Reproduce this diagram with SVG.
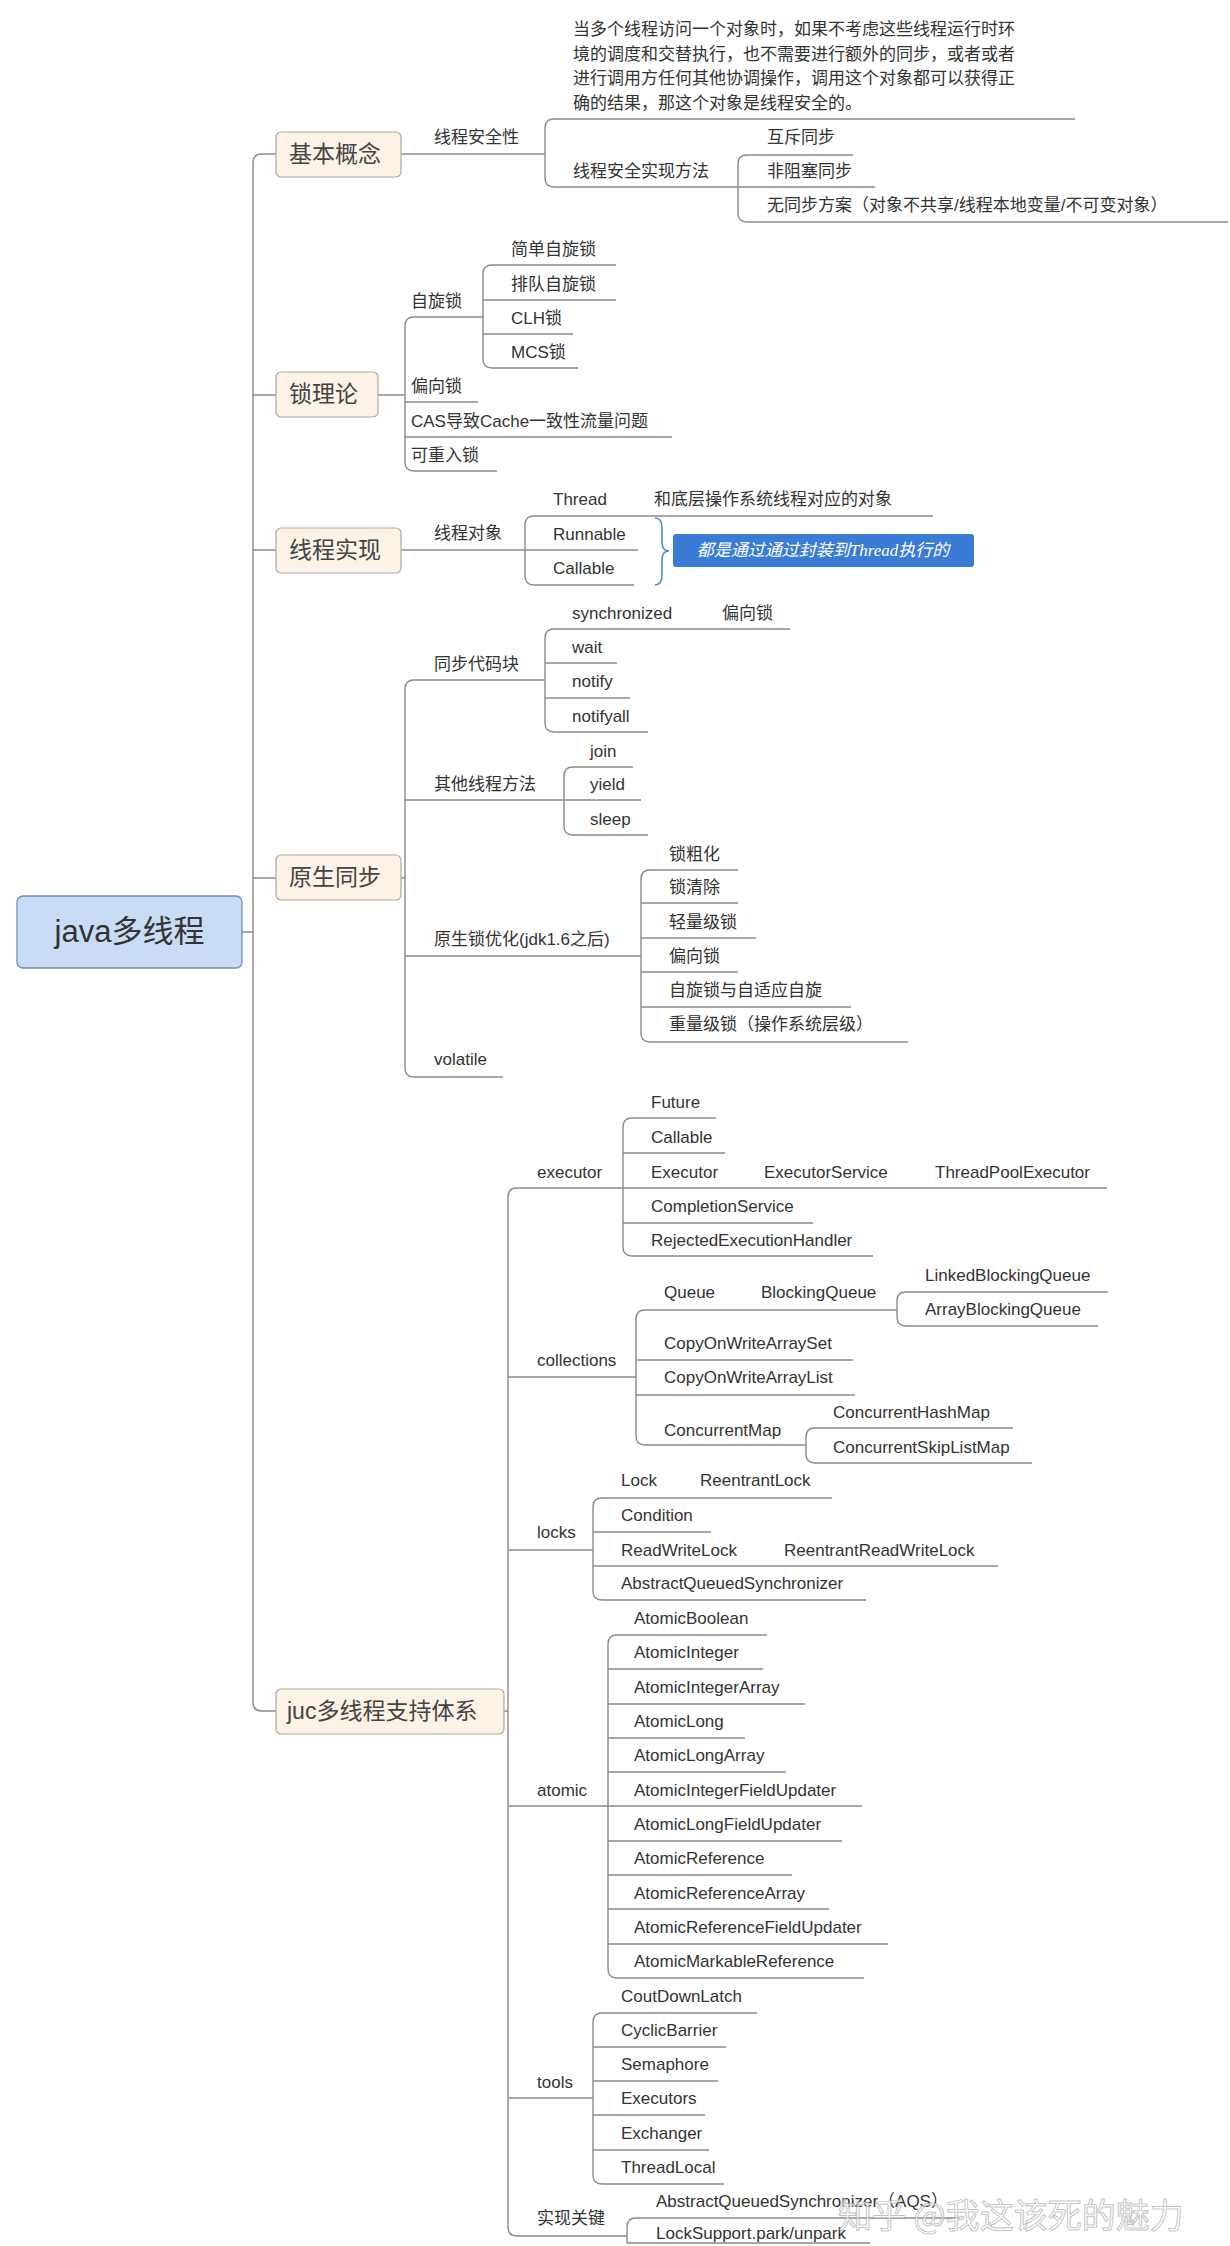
<svg xmlns="http://www.w3.org/2000/svg" width="1230" height="2246" viewBox="0 0 1230 2246">
<style>
.t{font-family:"Liberation Sans","Noto Sans CJK SC",sans-serif;font-size:17px;fill:#333}
.b{font-family:"Liberation Sans","Noto Sans CJK SC",sans-serif;font-size:23px;fill:#444}
.c{fill:none;stroke:#8a8a8a;stroke-width:1.4}
.box{fill:#fcf2e6;stroke:#b3a89a;stroke-width:1.2}
</style>
<rect width="1230" height="2246" fill="#fff"/>
<g id="connectors" class="c">
<!-- main trunk -->
<path d="M242 932 H253 M276 154 H262 Q253 154 253 163 V1702 Q253 1711 262 1711 H276 M253 395 H276 M253 550 H276 M253 878 H276"/>
<!-- 基本概念 -->
<path d="M401 154 H545 M1075 119 H554 Q545 119 545 128 V178 Q545 187 554 187 H738 M853 155 H747 Q738 155 738 164 V213 Q738 222 747 222 H1228 M738 187 H875"/>
<!-- 锁理论 -->
<path d="M378 395 H405 M483 317 H414 Q405 317 405 326 V462 Q405 471 414 471 H497 M405 402 H478 M405 437 H672 M616 265 H492 Q483 265 483 274 V359 Q483 368 492 368 H578 M483 300 H616 M483 334 H573"/>
<!-- 线程实现 -->
<path d="M401 550 H525 M933 516 H534 Q525 516 525 525 V576 Q525 585 534 585 H634 M525 550 H638"/>
<path d="M655 518 Q662 518 662 528 V542 Q662 551 669 551 Q662 551 662 560 V575 Q662 585 655 585" stroke="#4a8fd6" stroke-width="1.6"/>
<!-- 原生同步 -->
<path d="M401 878 H405 M545 680 H414 Q405 680 405 689 V1068 Q405 1077 414 1077 H503 M405 800 H564 M405 956 H641 M790 629 H554 Q545 629 545 638 V723 Q545 732 554 732 H648 M545 663 H617 M545 698 H630 M633 767 H573 Q564 767 564 776 V826 Q564 835 573 835 H648 M564 800 H641 M738 870 H650 Q641 870 641 879 V1033 Q641 1042 650 1042 H908 M641 903 H738 M641 938 H756 M641 972 H738 M641 1007 H851"/>
<!-- juc -->
<path d="M504 1711 H508 M623 1188 H517 Q508 1188 508 1197 V2227 Q508 2236 517 2236 H627 M508 1377 H636 M508 1550 H593 M508 1806 H608 M508 2098 H593"/>
<path d="M716 1118 H632 Q623 1118 623 1127 V1247 Q623 1256 632 1256 H873 M623 1153 H725 M623 1188 H1107 M623 1223 H813"/>
<path d="M897 1310 H645 Q636 1310 636 1319 V1436 Q636 1445 645 1445 H806 M636 1360 H853 M636 1395 H855 M1108 1292 H906 Q897 1292 897 1301 V1317 Q897 1326 906 1326 H1098 M1013 1428 H815 Q806 1428 806 1437 V1454 Q806 1463 815 1463 H1032"/>
<path d="M832 1498 H602 Q593 1498 593 1507 V1591 Q593 1600 602 1600 H866 M593 1532 H711 M593 1566 H998"/>
<path d="M767 1635 H617 Q608 1635 608 1644 V1969 Q608 1978 617 1978 H864 M608 1669 H763 M608 1704 H805 M608 1738 H745 M608 1772 H786 M608 1806 H862 M608 1841 H842 M608 1875 H792 M608 1909 H829 M608 1944 H888"/>
<path d="M757 2013 H602 Q593 2013 593 2022 V2175 Q593 2184 602 2184 H724 M593 2047 H726 M593 2081 H718 M593 2115 H705 M593 2150 H709"/>
<path d="M960 2218 H636 Q627 2218 627 2227 V2243 M627 2243 H870"/>
</g>
<g id="root"><rect x="17" y="896" width="225" height="72" rx="6" fill="#c9dcf5" stroke="#6d8fbf" stroke-width="1.3"/><text x="129.5" y="942" text-anchor="middle" font-family="Liberation Sans,Noto Sans CJK SC,sans-serif" font-size="31" fill="#333">java多线程</text></g>
<g id="n1"><rect class="box" x="276" y="132" width="125" height="45" rx="5"/><text class="b" x="289" y="162">基本概念</text></g>
<g id="n2"><rect class="box" x="276" y="372" width="102" height="45" rx="5"/><text class="b" x="289" y="402">锁理论</text></g>
<g id="n3"><rect class="box" x="276" y="528" width="125" height="45" rx="5"/><text class="b" x="289" y="558">线程实现</text></g>
<g id="n4"><rect class="box" x="276" y="855" width="125" height="45" rx="5"/><text class="b" x="289" y="885">原生同步</text></g>
<g id="n5"><rect class="box" x="276" y="1689" width="228" height="45" rx="5"/><text class="b" x="287" y="1719">juc多线程支持体系</text></g>
<g id="leaves" class="t">
<text x="434" y="143">线程安全性</text>
<text x="573" y="35">当多个线程访问一个对象时，如果不考虑这些线程运行时环</text>
<text x="573" y="60">境的调度和交替执行，也不需要进行额外的同步，或者或者</text>
<text x="573" y="84">进行调用方任何其他协调操作，调用这个对象都可以获得正</text>
<text x="573" y="109">确的结果，那这个对象是线程安全的。</text>
<text x="573" y="177">线程安全实现方法</text>
<text x="767" y="143">互斥同步</text>
<text x="767" y="177">非阻塞同步</text>
<text x="767" y="211">无同步方案（对象不共享/线程本地变量/不可变对象）</text>
<text x="411" y="307">自旋锁</text>
<text x="511" y="255">简单自旋锁</text>
<text x="511" y="290">排队自旋锁</text>
<text x="511" y="324">CLH锁</text>
<text x="511" y="358">MCS锁</text>
<text x="411" y="392">偏向锁</text>
<text x="411" y="427">CAS导致Cache一致性流量问题</text>
<text x="411" y="461">可重入锁</text>
<text x="434" y="539">线程对象</text>
<text x="553" y="505">Thread</text>
<text x="654" y="505">和底层操作系统线程对应的对象</text>
<text x="553" y="540">Runnable</text>
<text x="553" y="574">Callable</text>
<text x="434" y="670">同步代码块</text>
<text x="572" y="619">synchronized</text>
<text x="722" y="619">偏向锁</text>
<text x="572" y="653">wait</text>
<text x="572" y="687">notify</text>
<text x="572" y="722">notifyall</text>
<text x="434" y="790">其他线程方法</text>
<text x="590" y="757">join</text>
<text x="590" y="790">yield</text>
<text x="590" y="825">sleep</text>
<text x="434" y="945">原生锁优化(jdk1.6之后)</text>
<text x="669" y="860">锁粗化</text>
<text x="669" y="893">锁清除</text>
<text x="669" y="928">轻量级锁</text>
<text x="669" y="962">偏向锁</text>
<text x="669" y="996">自旋锁与自适应自旋</text>
<text x="669" y="1030">重量级锁（操作系统层级）</text>
<text x="434" y="1065">volatile</text>
<text x="537" y="1178">executor</text>
<text x="651" y="1108">Future</text>
<text x="651" y="1143">Callable</text>
<text x="651" y="1178">Executor</text>
<text x="764" y="1178">ExecutorService</text>
<text x="935" y="1178">ThreadPoolExecutor</text>
<text x="651" y="1212">CompletionService</text>
<text x="651" y="1246">RejectedExecutionHandler</text>
<text x="537" y="1366">collections</text>
<text x="664" y="1298">Queue</text>
<text x="761" y="1298">BlockingQueue</text>
<text x="925" y="1281">LinkedBlockingQueue</text>
<text x="925" y="1315">ArrayBlockingQueue</text>
<text x="664" y="1349">CopyOnWriteArraySet</text>
<text x="664" y="1383">CopyOnWriteArrayList</text>
<text x="664" y="1436">ConcurrentMap</text>
<text x="833" y="1418">ConcurrentHashMap</text>
<text x="833" y="1453">ConcurrentSkipListMap</text>
<text x="537" y="1538">locks</text>
<text x="621" y="1486">Lock</text>
<text x="700" y="1486">ReentrantLock</text>
<text x="621" y="1521">Condition</text>
<text x="621" y="1556">ReadWriteLock</text>
<text x="784" y="1556">ReentrantReadWriteLock</text>
<text x="621" y="1589">AbstractQueuedSynchronizer</text>
<text x="537" y="1796">atomic</text>
<text x="634" y="1624">AtomicBoolean</text>
<text x="634" y="1658">AtomicInteger</text>
<text x="634" y="1693">AtomicIntegerArray</text>
<text x="634" y="1727">AtomicLong</text>
<text x="634" y="1761">AtomicLongArray</text>
<text x="634" y="1796">AtomicIntegerFieldUpdater</text>
<text x="634" y="1830">AtomicLongFieldUpdater</text>
<text x="634" y="1864">AtomicReference</text>
<text x="634" y="1899">AtomicReferenceArray</text>
<text x="634" y="1933">AtomicReferenceFieldUpdater</text>
<text x="634" y="1967">AtomicMarkableReference</text>
<text x="537" y="2088">tools</text>
<text x="621" y="2002">CoutDownLatch</text>
<text x="621" y="2036">CyclicBarrier</text>
<text x="621" y="2070">Semaphore</text>
<text x="621" y="2104">Executors</text>
<text x="621" y="2139">Exchanger</text>
<text x="621" y="2173">ThreadLocal</text>
<text x="537" y="2224">实现关键</text>
<text x="656" y="2207">AbstractQueuedSynchronizer（AQS）</text>
<text x="656" y="2239">LockSupport.park/unpark</text>
</g>
<g id="note"><rect x="673" y="534" width="301" height="33" rx="3" fill="#3a7bd5"/><text x="823" y="556" text-anchor="middle" font-family="Liberation Serif,Noto Sans CJK SC,serif" font-size="17" font-style="italic" fill="#fff">都是通过通过封装到Thread执行的</text></g>
<text x="838" y="2228" font-family="Noto Sans CJK SC,sans-serif" font-size="34" fill="#fff" fill-opacity="0.6" stroke="#999" stroke-opacity="0.6" stroke-width="1">知乎 @我这该死的魅力</text>
</svg>
